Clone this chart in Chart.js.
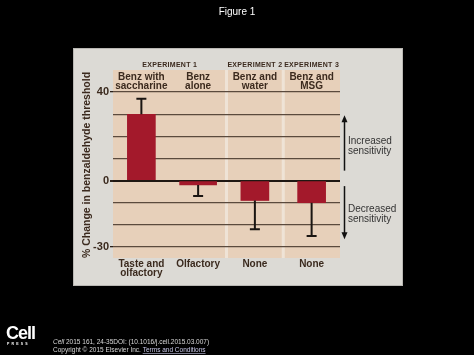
<!DOCTYPE html>
<html><head><meta charset="utf-8">
<script src="https://cdn.jsdelivr.net/npm/chart.js@4.4.1/dist/chart.umd.min.js"></script>
<style>html,body{margin:0;padding:0;background:#000;overflow:hidden}canvas{display:block}</style>
</head><body>
<canvas id="c" width="474" height="355"></canvas>
<script>
// ---- data ----
const categories = [["Taste and","olfactory"],["Olfactory"],["None"],["None"]];
const headers = [["Benz with","saccharine"],["Benz","alone"],["Benz and","water"],["Benz and","MSG"]];
const experiments = ["EXPERIMENT 1","EXPERIMENT 2","EXPERIMENT 3"];
const values = [30, -2, -9, -10];
const errorEnds = [37, -7, -22, -25];
const gridValues = [-30, -20, -10, 0, 10, 20, 30, 40];
const tickLabels = [40, 0, -30];
const yTitle = "% Change in benzaldehyde threshold";

const RED = '#a3192b', INK = '#3b2a1e';
const FONT = '"Liberation Sans", Arial, sans-serif';

const narrow = values.map((v,i)=> i===1 ? null : v);
const wide = values.map((v,i)=> i===1 ? v : null);

const deco = {
  id:'deco',
  beforeDraw(chart){
    const {ctx, chartArea:a, scales:{x,y}} = chart;
    ctx.save();
    ctx.fillStyle='#000'; ctx.fillRect(0,0,chart.width,chart.height);
    ctx.fillStyle='#dcdad5'; ctx.fillRect(74,49,328,236);
    ctx.strokeStyle='#b9b7b3'; ctx.lineWidth=1; ctx.strokeRect(73.5,48.5,329,237);
    ctx.fillStyle='#e7d0ba'; ctx.fillRect(a.left,a.top,a.right-a.left,a.bottom-a.top);
    ctx.fillStyle='#efe3d6';
    [1.5,2.5].forEach(v=>{const px=x.getPixelForValue(v);ctx.fillRect(px-1.5,a.top,3,a.bottom-a.top);});
    ctx.restore();
  },
  afterDraw(chart){
    const {ctx, chartArea:a, scales:{x,y}} = chart;
    ctx.save();
    // error bars
    ctx.strokeStyle='#1a1512'; ctx.lineWidth=2;
    values.forEach((v,i)=>{
      const px=x.getPixelForValue(i), y0=y.getPixelForValue(v), y1=y.getPixelForValue(errorEnds[i]);
      ctx.beginPath(); ctx.moveTo(px,y0); ctx.lineTo(px,y1);
      ctx.moveTo(px-5,y1); ctx.lineTo(px+5,y1); ctx.stroke();
    });
    // headers
    ctx.fillStyle=INK; ctx.textAlign='center'; ctx.textBaseline='middle';
    ctx.font='bold 10px '+FONT;
    headers.forEach((h,i)=>{const px=x.getPixelForValue(i);h.forEach((t,j)=>ctx.fillText(t,px,a.top+7.5+j*8.5));});
    ctx.font='bold 7px '+FONT;
    const expX=[(x.getPixelForValue(0)+x.getPixelForValue(1))/2, x.getPixelForValue(2), x.getPixelForValue(3)];
    ctx.letterSpacing='0.3px';
    experiments.forEach((t,i)=>ctx.fillText(t,expX[i],a.top-4.5));
    ctx.letterSpacing='0px';
    // y title
    ctx.save(); ctx.translate(87,165); ctx.rotate(-Math.PI/2);
    ctx.font='bold 10.5px '+FONT; ctx.fillStyle=INK; ctx.fillText(yTitle,0,0); ctx.restore();
    // arrows
    const ax=a.right+4.5;
    ctx.strokeStyle='#111'; ctx.fillStyle='#111'; ctx.lineWidth=1.5;
    const arrow=(yFrom,yTo)=>{
      const p0=y.getPixelForValue(yFrom), p1=y.getPixelForValue(yTo), d=Math.sign(p1-p0);
      ctx.beginPath(); ctx.moveTo(ax,p0); ctx.lineTo(ax,p1-d*5); ctx.stroke();
      ctx.beginPath(); ctx.moveTo(ax,p1); ctx.lineTo(ax-3,p1-d*7); ctx.lineTo(ax+3,p1-d*7); ctx.closePath(); ctx.fill();
    };
    arrow(4.5,29.5); arrow(-2.5,-26.5);
    ctx.fillStyle='#333'; ctx.font='10px '+FONT; ctx.textAlign='left';
    ctx.fillText('Increased',ax+3.5,141); ctx.fillText('sensitivity',ax+3.5,151);
    ctx.fillText('Decreased',ax+3.5,209); ctx.fillText('sensitivity',ax+3.5,219);
    // title
    ctx.fillStyle='#fff'; ctx.textAlign='center'; ctx.font='10px '+FONT;
    ctx.fillText('Figure 1',237,12);
    // footer
    ctx.textAlign='left'; ctx.textBaseline='alphabetic';
    ctx.font='bold 18px '+FONT; ctx.fillStyle='#fff'; ctx.letterSpacing='-1px';
    ctx.fillText('Cell',6,339);
    ctx.letterSpacing='2.2px'; ctx.font='bold 3.5px '+FONT;
    ctx.fillText('PRESS',7,345);
    ctx.letterSpacing='0px';
    ctx.fillStyle='#d8d8d8'; ctx.font='italic 6.5px '+FONT;
    ctx.fillText('Cell',53,344);
    const w=ctx.measureText('Cell ').width;
    ctx.font='6.5px '+FONT;
    ctx.fillText('2015 161, 24-35DOI: (10.1016/j.cell.2015.03.007)',53+w,344);
    const cp='Copyright © 2015 Elsevier Inc. ';
    ctx.fillText(cp,53,352);
    const w2=ctx.measureText(cp).width;
    ctx.fillStyle='#c8c8e8';
    ctx.fillText('Terms and Conditions',53+w2,352);
    const w3=ctx.measureText('Terms and Conditions').width;
    ctx.fillRect(53+w2,353,w3,0.6);
    ctx.restore();
  }
};

new Chart(document.getElementById('c'),{
  type:'bar',
  data:{labels:categories,datasets:[
    {data:narrow,backgroundColor:RED,barThickness:28,grouped:false},
    {data:wide,backgroundColor:RED,barThickness:37,grouped:false}
  ]},
  options:{
    responsive:false,animation:false,
    layout:{padding:{top:70,right:134,left:0,bottom:0}},
    plugins:{legend:{display:false},tooltip:{enabled:false}},
    scales:{
      x:{
        afterFit:s=>{s.height=97;},
        grid:{display:false,drawTicks:false,tickLength:0},border:{display:false},
        ticks:{color:INK,font:{family:FONT,size:10,weight:'bold',lineHeight:0.85},padding:2,maxRotation:0,autoSkip:false}
      },
      y:{
        min:-35,max:50,
        afterFit:s=>{s.width=113;},
        afterBuildTicks:s=>{s.ticks=gridValues.map(v=>({value:v}));},
        border:{display:false},
        grid:{
          color:c=>c.tick.value===0?'#1f1712':'#5b4a3d',
          lineWidth:c=>c.tick.value===0?2:1.3,
          tickLength:3,
          tickColor:c=>tickLabels.includes(c.tick.value)?'#2b1f17':'rgba(0,0,0,0)'
        },
        ticks:{padding:1,color:INK,font:{family:FONT,size:11,weight:'bold'},
          callback:v=>tickLabels.includes(v)?String(v):''}
      }
    }
  },
  plugins:[deco]
});
</script>
</body></html>
